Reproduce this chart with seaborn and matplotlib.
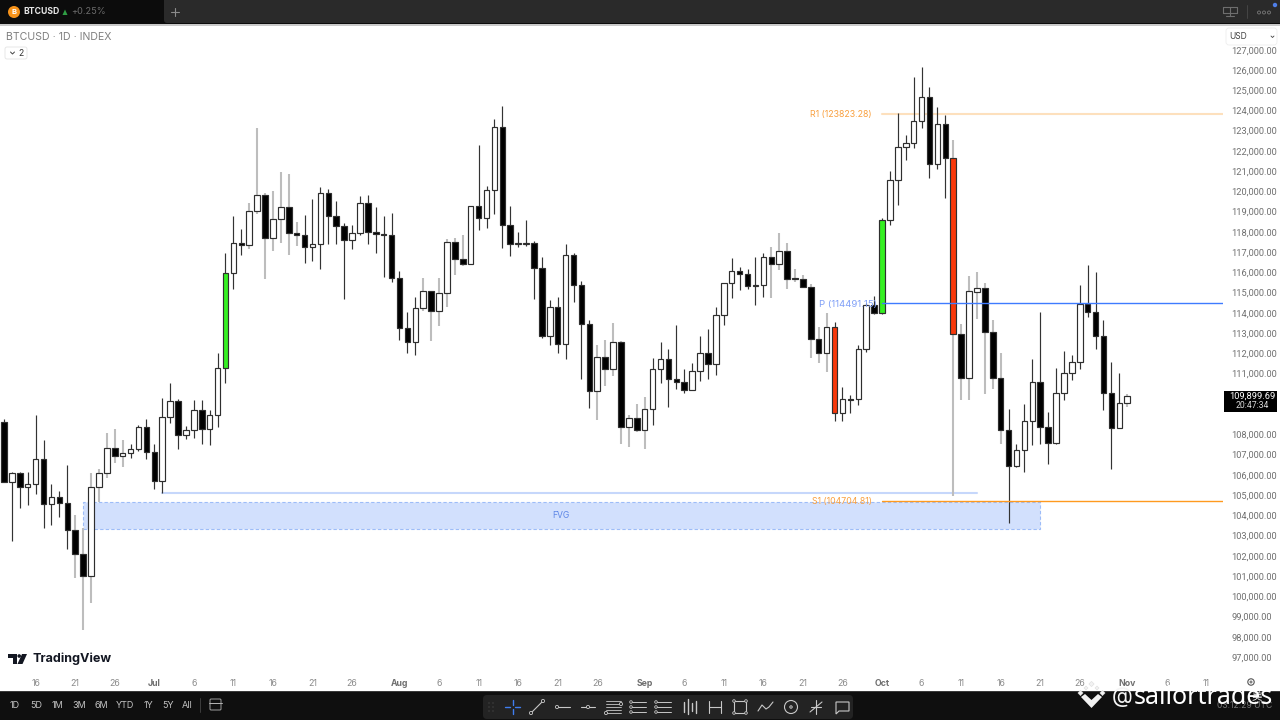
import numpy as np
import pandas as pd
import matplotlib
matplotlib.use('Agg')
import matplotlib.pyplot as plt
from matplotlib.patches import Circle, FancyBboxPatch, Polygon, Rectangle
from matplotlib.ticker import FuncFormatter
import seaborn as sns

# Daily candles, 12 Jun to 1 Nov, values
opens = [108600, 105660, 106070, 105410, 105570, 106780, 104570, 104880, 104630, 103250,
         102100, 100980, 105390, 106070, 107300, 106910, 107060, 107270, 108340, 107110,
         105710, 108850, 109630, 107990, 108190, 109180, 108260, 108930, 111260, 115950,
         117470, 117350, 119050, 119800, 117710, 118650, 119240, 117940, 117840, 117250,
         117380, 119940, 118770, 118310, 117580, 117930, 119430, 118010, 117910, 117830,
         115740, 113230, 112540, 114220, 115060, 114090, 114990, 117480, 116660, 116430,
         119260, 118700, 120050, 123200, 118340, 117400, 117420, 117440, 116230, 112840,
         114270, 112480, 116860, 115370, 113460, 110140, 111800, 111240, 112540, 108360,
         108790, 108230, 109230, 111210, 111730, 110730, 110600, 110170, 111110, 112030,
         111490, 113890, 115460, 116050, 115900, 115330, 115370, 116770, 116430, 117070,
         115700, 115670, 115280, 112710, 112020, 113320, 109030, 109730, 109730, 112210,
         114390, 113970, 118570, 120550, 122210, 122370, 123460, 124680, 121370, 123310,
         121660, 112940, 110760, 115050, 115210, 113070, 110760, 108190, 106450, 107210,
         108650, 110570, 108360, 107570, 110060, 111010, 111590, 114450, 114060, 112870,
         110040, 108290, 109540]
closes = [105650, 106070, 105410, 105570, 106780, 104570, 104880, 104620, 103250, 102100,
          100980, 105390, 106070, 107300, 106910, 107060, 107270, 108340, 107110, 105710,
          108850, 109630, 107990, 108190, 109210, 108260, 108930, 111260, 115950, 117470,
          117350, 119050, 119800, 117710, 118650, 119240, 117940, 117840, 117250, 117380,
          119940, 118770, 118310, 117580, 117930, 119430, 118010, 117910, 117830, 115740,
          113230, 112540, 114220, 115060, 114090, 114990, 117480, 116660, 116430, 119260,
          118700, 120050, 123200, 118340, 117380, 117470, 117440, 116230, 112840, 114270,
          112480, 116860, 115370, 113460, 110140, 111800, 111240, 112540, 108360, 108790,
          108230, 109230, 111210, 111730, 110730, 110600, 110170, 111110, 112030, 111490,
          113890, 115460, 116050, 115900, 115340, 115370, 116770, 116430, 117070, 115670,
          115670, 115280, 112710, 112020, 113320, 109030, 109730, 109700, 112210, 114390,
          113970, 118570, 120550, 122210, 122370, 123460, 124680, 121370, 123310, 121660,
          112940, 110760, 115100, 115210, 113070, 110760, 108190, 106450, 107210, 108650,
          110570, 108360, 107570, 110060, 111010, 111590, 114450, 114060, 112870, 110040,
          108290, 109540, 109900]
highs = [108740, 106150, 106150, 106120, 108930, 107720, 105540, 105210, 106480, 103990,
         103350, 106070, 106280, 108090, 108260, 107720, 107520, 108460, 108740, 107520,
         109790, 110550, 109760, 108410, 109690, 109690, 109180, 112010, 116970, 118780,
         118160, 119410, 123130, 119900, 120020, 120960, 120860, 118490, 118820, 119640,
         120200, 120100, 119510, 118450, 118340, 119770, 119800, 119240, 118780, 118920,
         116050, 114040, 114760, 115720, 115070, 115720, 117660, 117700, 117860, 119260,
         122280, 120270, 123590, 124220, 119280, 117990, 118590, 117570, 116770, 114630,
         114800, 117380, 116950, 115590, 113650, 112390, 112660, 113480, 112610, 108940,
         109500, 109840, 111750, 112560, 112200, 113380, 111210, 111540, 112860, 113200,
         114270, 115460, 116710, 116280, 116150, 116770, 116960, 117270, 117930, 117430,
         116180, 115850, 115410, 113300, 113990, 113550, 110350, 109940, 112410, 114490,
         114830, 118670, 121020, 123890, 122800, 125670, 126160, 125140, 124150, 123770,
         122540, 113450, 115820, 116020, 115490, 113650, 112000, 109260, 107520, 109500,
         111720, 114040, 109100, 111290, 112110, 111920, 115390, 116360, 116020, 113650,
         111570, 111040, 109970]
lows = [105650, 102720, 104370, 104520, 105030, 103380, 103510, 103930, 102350, 100910,
        98310, 99690, 104670, 105850, 106600, 106380, 106840, 107190, 106760, 105280,
        105110, 108570, 107290, 107780, 107810, 107530, 107450, 108340, 110550, 115180,
        116870, 117170, 118900, 115690, 117050, 117470, 116870, 117320, 116480, 116540,
        116160, 117380, 117380, 114680, 117150, 117850, 117420, 116950, 115790, 115540,
        112670, 112010, 111930, 114110, 112620, 113360, 114290, 115880, 116330, 116430,
        118080, 118210, 118900, 117190, 116790, 117270, 117300, 114680, 112770, 112410,
        112030, 111720, 114550, 110750, 109310, 108720, 110400, 110890, 107500, 107370,
        108100, 107270, 108460, 110550, 109350, 110240, 110020, 110170, 110610, 110730,
        110940, 113400, 114750, 115130, 115180, 114390, 114760, 114750, 116120, 115180,
        115510, 115260, 111780, 111520, 111090, 108670, 108670, 109050, 109440, 112060,
        113940, 113940, 118340, 119310, 121570, 122160, 123110, 120640, 121100, 119660,
        104970, 109710, 109710, 113710, 110000, 110240, 107500, 103600, 106400, 106150,
        107470, 107500, 106510, 107500, 109710, 110700, 111220, 113790, 112210, 109180,
        106300, 108290, 109360]
green_days = [28, 111]
red_days = [105, 120]

# Wicks that land between two pixels look wider and grey in the screenshot
soft_wick_runs = [(9, 15), (31, 37), (53, 59), (75, 81), (97, 104), (120, 126), (142, 142)]

price_ticks = list(range(97000, 128000, 1000))
# the last price tag sits over these two
hidden_prices = [109000, 110000]
tick_days = [4, 9, 14, 19, 24, 29, 34, 39, 44, 50, 55, 60, 65, 70, 75, 81, 86, 91, 96, 101,
             106, 111, 116, 121, 126, 131, 136, 142, 147, 152]
tick_labels = ['16', '21', '26', 'Jul', '6', '11', '16', '21', '26', 'Aug', '6', '11', '16',
               '21', '26', 'Sep', '6', '11', '16', '21', '26', 'Oct', '6', '11', '16', '21',
               '26', 'Nov', '6', '11']
month_labels = ['Jul', 'Aug', 'Sep', 'Oct', 'Nov']

r1_level = 123823.28
p_level = 114491.15
s1_level = 104704.81
pivot_start = 111
swing_low = 105110
swing_days = [20, 123]
fvg_top = 104667
fvg_bottom = 103333
fvg_days = [10, 131]
fvg_label_day = 70.4
last_price = 109899.69

range_buttons = ['1D', '5D', '1M', '3M', '6M', 'YTD', '1Y', '5Y', 'All']

sns.set_theme(style='white')
plt.rcParams['font.family'] = ['Inter', 'DejaVu Sans']

W, H = 1280, 720
fig = plt.figure(figsize=(W / 100, H / 100), dpi=100, facecolor='white')

# chart pane: x pixel = 4 + 7.91 * day, y pixel 657 at 97,000 and 49.7 at 127,000
ax = fig.add_axes([0, (H - 671) / H, 1223 / W, (671 - 25) / H])
ax.set_xlim((0 - 4) / 7.91, (1223 - 4) / 7.91)
ax.set_ylim(97000 - 14 * 49.4, 127000 + 24.7 * 49.4)
sns.despine(ax=ax, left=True, bottom=True)

df = pd.DataFrame({'open': opens, 'high': highs, 'low': lows, 'close': closes})
df['day'] = df.index
df['soft'] = False
for first, last in soft_wick_runs:
    df.loc[first:last, 'soft'] = True

df['body'] = np.where(df.close < df.open, '#000000', '#ffffff')
df.loc[green_days, 'body'] = '#35f022'
df.loc[red_days, 'body'] = '#f8380a'

soft = df[df.soft]
hard = df[~df.soft]
ax.vlines(soft.day, soft.low, soft.high, color='#bdbdbd', lw=1.5, zorder=3)
ax.vlines(hard.day, hard.low, hard.high, color='#333333', lw=0.85, zorder=3)
ax.bar(df.day, (df.close - df.open).abs(), bottom=df[['open', 'close']].min(axis=1),
       width=0.7, color=df.body, edgecolor='#2e2e2e', linewidth=0.85, zorder=4)

# FVG box and the level lines
ax.add_patch(Rectangle((fvg_days[0], fvg_bottom), fvg_days[1] - fvg_days[0], fvg_top - fvg_bottom,
                       facecolor='#d2e0fd', edgecolor='#9dbcf8', lw=0.8, ls=(0, (3, 2)), zorder=1))
ax.text(fvg_label_day, (fvg_top + fvg_bottom) / 2, 'FVG', color='#5d86e6', fontsize=6.2,
        ha='center', va='center', zorder=6)
right_day = ax.get_xlim()[1]
sns.lineplot(x=swing_days, y=[swing_low, swing_low], ax=ax, color='#c6d7fb', lw=1.5, zorder=2)
sns.lineplot(x=[pivot_start, right_day], y=[r1_level, r1_level], ax=ax, color='#fde0bd', lw=1.5, zorder=2)
sns.lineplot(x=[pivot_start, right_day], y=[p_level, p_level], ax=ax, color='#3f7bff', lw=1.0, zorder=5)
sns.lineplot(x=[pivot_start, right_day], y=[s1_level, s1_level], ax=ax, color='#ff9a1f', lw=1.0, zorder=5)
label_day = pivot_start - 1.25
ax.text(label_day, r1_level - 40, 'R1 (%.2f)' % r1_level, color='#f9a03f', fontsize=6.3,
        ha='right', va='center', zorder=6)
ax.text(label_day + 0.6, p_level - 100, 'P (%.2f)' % p_level, color='#7f9ff7', fontsize=6.9,
        ha='right', va='center', zorder=6)
ax.text(label_day, s1_level, 'S1 (%.2f)' % s1_level, color='#f9a03f', fontsize=6.3,
        ha='right', va='center', zorder=6)

ax.yaxis.tick_right()
ax.set_yticks(price_ticks)
ax.yaxis.set_major_formatter(
    FuncFormatter(lambda v, pos: '' if v in hidden_prices else '{:,.2f}'.format(v)))
ax.tick_params(axis='y', length=0, pad=6, labelsize=6.7, labelcolor='#6f6f6f', labelfontfamily='Roboto')
ax.set_xticks(tick_days)
ax.set_xticklabels(tick_labels)
ax.tick_params(axis='x', length=0, pad=5.5, labelsize=6.3, labelcolor='#8a8a8a')
for lab in ax.get_xticklabels():
    if lab.get_text() in month_labels:
        lab.set_fontweight('bold')
        lab.set_color('#6f6f6f')
ax.grid(False)
ax.set_xlabel('')
ax.set_ylabel('')
if ax.get_legend():
    ax.get_legend().remove()

# window chrome drawn on top in pixel coordinates
ui = fig.add_axes([0, 0, 1, 1], zorder=10)
ui.set_xlim(0, W)
ui.set_ylim(H, 0)
ui.axis('off')
ui.patch.set_alpha(0)


def box(x0, y0, x1, y1, color, z=1):
    ui.add_patch(Rectangle((x0, y0), x1 - x0, y1 - y0, facecolor=color, edgecolor='none', zorder=z))


def rbox(x0, y0, x1, y1, face, edge='none', r=3, z=2):
    ui.add_patch(FancyBboxPatch((x0 + r, y0 + r), x1 - x0 - 2 * r, y1 - y0 - 2 * r,
                                boxstyle='round,pad=%s' % r, facecolor=face, edgecolor=edge,
                                lw=0.6, zorder=z))


def seg(xs, ys, color='#c8c8c8', lw=0.8, z=4):
    ui.plot(xs, ys, color=color, lw=lw, zorder=z, solid_capstyle='round')


def dot(x, y, r=1.6, color='#c8c8c8'):
    ui.add_patch(Circle((x, y), r, facecolor='#232323', edgecolor=color, lw=0.6, zorder=5))


def put(x, y, s, color, size, ha='left', weight='normal', z=5, **kw):
    ui.text(x, y, s, color=color, fontsize=size, ha=ha, va='center', fontweight=weight, zorder=z, **kw)


# top bar
box(0, 0, W, 24, '#0c0c0c')
rbox(164, -6, W + 8, 23, '#2a2a2a', r=3)
box(0, 24, W, 25.5, '#c9c9c9')
ui.add_patch(Circle((14, 12), 6, facecolor='#f7931a', edgecolor='none', zorder=4))
put(14, 12, 'B', 'white', 5.5, ha='center', weight='bold')
put(23, 12, 'BTCUSD', '#e6e6e6', 6.2, weight='bold')
ui.add_patch(Polygon([[62.5, 15], [67.5, 15], [65, 9.5]], facecolor='#2f9e44', edgecolor='none', zorder=4))
put(71, 12, '+0.25%', '#6b6b6b', 6.6)
seg([171, 179], [12, 12], '#8c8c8c')
seg([175, 175], [8, 16], '#8c8c8c')
seg([1223, 1237], [7, 7], '#6e6e6e')
seg([1223, 1237], [13, 13], '#6e6e6e')
seg([1223, 1223], [7, 13], '#6e6e6e')
seg([1237, 1237], [7, 13], '#6e6e6e')
seg([1230, 1230], [7, 16], '#6e6e6e')
seg([1226, 1234], [16, 16], '#6e6e6e')
seg([1246.5, 1246.5], [5, 18], '#4a4a4a', lw=0.6)
for cx in [1259, 1264, 1269]:
    ui.add_patch(Circle((cx, 12.5), 1.5, facecolor='none', edgecolor='#7a7a7a', lw=0.6, zorder=4))
ui.add_patch(Circle((1275, 5), 2.2, facecolor='#4f7fe8', edgecolor='none', zorder=4))

# chart header
put(6, 36.5, 'BTCUSD · 1D · INDEX', '#7f7f7f', 7.6)
rbox(5, 47, 27, 59, 'white', '#e3e3e3', r=2)
seg([10.5, 12.5, 14.5], [52, 54, 52], '#444444', lw=0.7)
put(21, 53.5, '2', '#333333', 6.2, ha='center')

# USD selector and the last price tag
rbox(1226, 28, 1277, 45, 'white', '#eeeeee', r=3)
put(1229, 36.5, 'USD', '#444444', 6.1)
seg([1271, 1272.5, 1274], [36, 37.5, 36], '#444444', lw=0.6)
box(1224, 391, 1277, 412, '#000000')
put(1252, 396.5, '{:,.2f}'.format(last_price), 'white', 6.7, ha='center', family='Roboto')
put(1252, 406, '20:47:34', '#d9d9d9', 6.2, ha='center', family='Roboto')

# TradingView mark
ui.add_patch(Polygon([[8, 654], [17, 654], [17, 664], [12.5, 664], [12.5, 658], [8, 658]],
                     facecolor='#131722', edgecolor='none', zorder=4))
ui.add_patch(Circle((19.2, 656), 1.8, facecolor='#131722', edgecolor='none', zorder=4))
ui.add_patch(Polygon([[22, 654], [27, 654], [22.5, 664], [17.5, 664]], facecolor='#131722',
                     edgecolor='none', zorder=4))
put(32.5, 659, 'TradingView', '#131722', 9.1, weight='bold')

# bottom bar
box(0, 691, W, H, '#0f0f0f')
box(0, 690.5, W, 691.5, '#3a3a3a')
button_x = [15, 36, 57.5, 79, 101, 125, 148, 168, 187]
for bx, name in zip(button_x, range_buttons):
    put(bx, 705.5, name, '#c4c4c4', 6.5, ha='center')
seg([199.5, 199.5], [698, 712], '#444444', lw=0.6)
rbox(210, 699, 221, 710, 'none', '#b5b5b5', r=1, z=4)
seg([209, 222], [703, 703], '#b5b5b5', lw=0.7)

# drawing toolbar
rbox(483, 695, 853, 719, '#232323', r=4)
for dx in [489, 493]:
    for dy in [703, 707, 711]:
        ui.add_patch(Circle((dx, dy), 0.5, facecolor='#666666', edgecolor='none', zorder=4))
seg([505, 510], [707, 707], '#3f7ef0', lw=1)
seg([515, 520], [707, 707], '#3f7ef0', lw=1)
seg([512.5, 512.5], [700, 705], '#3f7ef0', lw=1)
seg([512.5, 512.5], [709, 714], '#3f7ef0', lw=1)
seg([531, 543], [713, 701])
dot(531, 713)
dot(543, 701)
seg([557, 570], [707, 707])
dot(557, 707)
seg([581, 595], [707, 707])
dot(588, 707)
for iy in [701, 704, 707, 710, 713]:
    seg([606, 621], [iy, iy], lw=0.6)
dot(621, 704)
dot(606, 713)
for iy in [702, 707, 712]:
    seg([631, 646], [iy, iy], lw=0.7)
    seg([656, 671], [iy, iy], lw=0.7)
    dot(631, iy, 1.3)
    dot(656, iy, 1.3)
for ix, (a, b) in zip([684, 688, 692, 696], [(702, 712), (699, 714), (703, 711), (701, 713)]):
    seg([ix, ix], [a, b], lw=1)
seg([709, 721], [707, 707])
seg([709, 709], [701, 713])
seg([721, 721], [701, 713])
ui.add_patch(Rectangle((734, 701), 12, 12, facecolor='none', edgecolor='#c8c8c8', lw=0.8, zorder=4))
for cx, cy in [(734, 701), (746, 701), (734, 713), (746, 713)]:
    dot(cx, cy, 1.3)
seg([758, 762, 766, 769, 773], [711, 705, 709, 707, 702])
ui.add_patch(Circle((791, 707), 6.5, facecolor='none', edgecolor='#c8c8c8', lw=0.8, zorder=4))
ui.add_patch(Circle((791, 707), 1.2, facecolor='none', edgecolor='#c8c8c8', lw=0.7, zorder=4))
seg([810, 822], [712, 702])
seg([816, 816], [700, 714])
seg([811, 821], [707, 707])
ui.add_patch(Polygon([[836, 702], [849, 702], [849, 711], [839, 711], [836, 714]], facecolor='none',
                     edgecolor='#c8c8c8', lw=0.8, zorder=4))

# time, settings and the repost watermark
put(1272, 705, '03:12:29 UTC', '#777777', 6.2, ha='right')
ui.add_patch(Circle((1251, 682), 3.2, facecolor='none', edgecolor='#555555', lw=0.8, zorder=4))
ui.add_patch(Circle((1251, 682), 1, facecolor='none', edgecolor='#555555', lw=0.6, zorder=4))
for dx, dy, s in [(-11, 0, 2.6), (11, 0, 2.6), (0, -9, 2.6), (-5.5, -5, 2), (5.5, -5, 2)]:
    ui.add_patch(Polygon([[1091.5 + dx, 693 + dy - s], [1091.5 + dx + s, 693 + dy],
                          [1091.5 + dx, 693 + dy + s], [1091.5 + dx - s, 693 + dy]],
                         facecolor='#f2f2f2', edgecolor='#dcdcdc', lw=0.4, zorder=7))
ui.add_patch(Polygon([[1081, 697], [1085, 694], [1091.5, 700], [1098, 694], [1102, 697], [1091.5, 708]],
                     facecolor='#f2f2f2', edgecolor='none', zorder=7))
put(1112, 697, '@', '#f5f5f5', 15.5, z=8)
put(1134, 697.5, 'sailortrades', 'white', 18, family=['Noto Sans', 'DejaVu Sans'], z=8)
put(1257, 697, '美', 'white', 7.5, family=['Noto Sans CJK SC', 'DejaVu Sans'], ha='center', z=9)

fig.savefig('out.png', dpi=100, facecolor='white')
